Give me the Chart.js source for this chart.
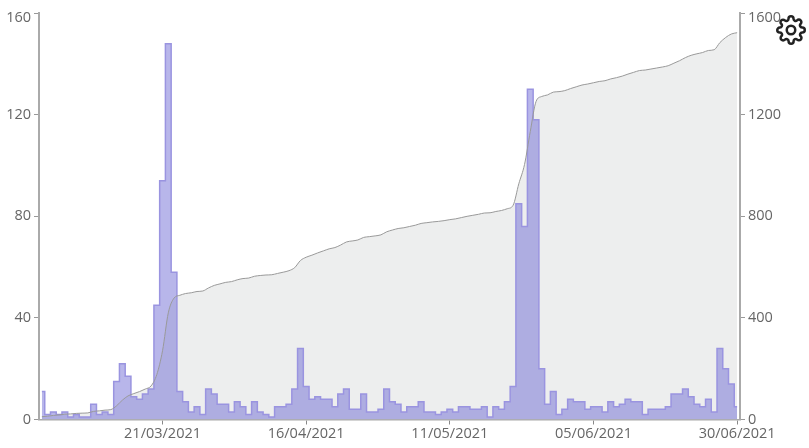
<!DOCTYPE html>
<html>
<head>
<meta charset="utf-8">
<style>
  html, body { margin: 0; padding: 0; background: #fff; overflow: hidden; }
  #wrap { position: relative; width: 809px; height: 448px; }
  #gear { position: absolute; left: 776px; top: 15px; }
</style>
<script src="https://cdn.jsdelivr.net/npm/chart.js@4"></script>
</head>
<body>
<div id="wrap">
  <canvas id="chart" width="809" height="448"></canvas>
  <svg id="gear" width="30" height="30" viewBox="0 0 24 24" fill="none" stroke="#222" stroke-width="2">
    <circle cx="12" cy="12" r="3.4"></circle>
    <path d="M19.4 15a1.65 1.65 0 0 0 .33 1.82l.06.06a2 2 0 0 1 0 2.83 2 2 0 0 1-2.83 0l-.06-.06a1.65 1.65 0 0 0-1.82-.33 1.65 1.65 0 0 0-1 1.51V21a2 2 0 0 1-2 2 2 2 0 0 1-2-2v-.09A1.65 1.65 0 0 0 9 19.4a1.65 1.65 0 0 0-1.82.33l-.06.06a2 2 0 0 1-2.83 0 2 2 0 0 1 0-2.83l.06-.06a1.65 1.65 0 0 0 .33-1.82 1.65 1.65 0 0 0-1.51-1H3a2 2 0 0 1-2-2 2 2 0 0 1 2-2h.09A1.65 1.65 0 0 0 4.6 9a1.65 1.65 0 0 0-.33-1.82l-.06-.06a2 2 0 0 1 0-2.83 2 2 0 0 1 2.83 0l.06.06a1.65 1.65 0 0 0 1.82.33H9a1.65 1.65 0 0 0 1-1.51V3a2 2 0 0 1 2-2 2 2 0 0 1 2 2v.09a1.65 1.65 0 0 0 1 1.51 1.65 1.65 0 0 0 1.82-.33l.06-.06a2 2 0 0 1 2.83 0 2 2 0 0 1 0 2.83l-.06.06a1.65 1.65 0 0 0-.33 1.82V9a1.65 1.65 0 0 0 1.51 1H21a2 2 0 0 1 2 2 2 2 0 0 1-2 2h-.09a1.65 1.65 0 0 0-1.51 1z"></path>
  </svg>
</div>
<script>
const dates = [
  '28/02/2021',
  '01/03/2021', '02/03/2021', '03/03/2021', '04/03/2021', '05/03/2021', '06/03/2021', '07/03/2021', '08/03/2021', '09/03/2021', '10/03/2021',
  '11/03/2021', '12/03/2021', '13/03/2021', '14/03/2021', '15/03/2021', '16/03/2021', '17/03/2021', '18/03/2021', '19/03/2021', '20/03/2021',
  '21/03/2021', '22/03/2021', '23/03/2021', '24/03/2021', '25/03/2021', '26/03/2021', '27/03/2021', '29/03/2021', '30/03/2021', '31/03/2021',
  '01/04/2021', '02/04/2021', '03/04/2021', '04/04/2021', '05/04/2021', '06/04/2021', '07/04/2021', '08/04/2021', '09/04/2021', '10/04/2021',
  '11/04/2021', '12/04/2021', '13/04/2021', '14/04/2021', '15/04/2021', '16/04/2021', '17/04/2021', '18/04/2021', '19/04/2021', '20/04/2021',
  '21/04/2021', '22/04/2021', '23/04/2021', '24/04/2021', '25/04/2021', '26/04/2021', '27/04/2021', '28/04/2021', '29/04/2021', '30/04/2021',
  '01/05/2021', '02/05/2021', '03/05/2021', '04/05/2021', '05/05/2021', '06/05/2021', '07/05/2021', '08/05/2021', '09/05/2021', '10/05/2021',
  '11/05/2021', '12/05/2021', '13/05/2021', '14/05/2021', '15/05/2021', '16/05/2021', '17/05/2021', '18/05/2021', '19/05/2021', '20/05/2021',
  '21/05/2021', '22/05/2021', '23/05/2021', '24/05/2021', '25/05/2021', '26/05/2021', '27/05/2021', '28/05/2021', '29/05/2021', '30/05/2021', '31/05/2021',
  '01/06/2021', '02/06/2021', '03/06/2021', '04/06/2021', '05/06/2021', '06/06/2021', '07/06/2021', '08/06/2021', '09/06/2021', '10/06/2021',
  '11/06/2021', '12/06/2021', '13/06/2021', '14/06/2021', '15/06/2021', '16/06/2021', '17/06/2021', '18/06/2021', '19/06/2021', '20/06/2021',
  '21/06/2021', '22/06/2021', '23/06/2021', '24/06/2021', '25/06/2021', '26/06/2021', '27/06/2021', '28/06/2021', '29/06/2021', '30/06/2021'
];

const daily = [
  11, 2, 3, 2, 3, 1, 2, 1, 1, 6, 2, 3, 2, 15, 22, 17, 9, 8, 10, 12,
  45, 94, 148, 58, 11, 7, 3, 5, 2, 12, 10, 6, 6, 3, 7, 5, 2, 7, 3, 2,
  1, 5, 5, 6, 12, 28, 13, 8, 9, 8, 8, 5, 10, 12, 4, 4, 10, 3, 3, 4,
  12, 7, 6, 3, 5, 5, 7, 3, 3, 2, 3, 4, 3, 5, 5, 4, 4, 5, 1, 5,
  4, 7, 13, 85, 76, 130, 118, 20, 6, 11, 2, 4, 8, 7, 7, 4, 5, 5, 3, 7,
  5, 6, 8, 7, 7, 2, 4, 4, 4, 5, 10, 10, 12, 9, 6, 5, 8, 3, 28, 20,
  14, 5
];

const total = [
  11, 13, 16, 18, 21, 22, 24, 25, 26, 32, 34, 37, 39, 54, 76, 93, 102, 110, 120, 132,
  177, 271, 420, 478, 489, 496, 499, 504, 506, 518, 528, 534, 540, 543, 550, 555, 557, 564, 567, 569,
  570, 575, 580, 586, 598, 626, 639, 647, 656, 664, 672, 677, 687, 699, 703, 707, 717, 720, 723, 727,
  739, 746, 752, 755, 760, 765, 772, 775, 778, 780, 783, 787, 790, 795, 800, 804, 808, 813, 814, 819,
  823, 830, 843, 928, 1004, 1134, 1252, 1272, 1278, 1289, 1291, 1295, 1303, 1310, 1317, 1321, 1326, 1331, 1334, 1341,
  1346, 1352, 1360, 1367, 1374, 1376, 1380, 1384, 1388, 1393, 1403, 1413, 1425, 1434, 1440, 1445, 1453, 1456, 1484, 1504,
  1518, 1523
];

const dateTicks = ['21/03/2021', '16/04/2021', '11/05/2021', '05/06/2021', '30/06/2021'];

const fontFamily = '"Open Sans", sans-serif';
const axisColor = '#aaaaaa';
const textColor = '#666666';

// the top label of each value axis sits a bit below its tick, an empty first line pushes it down
function valueTicks(top) {
    return {
        stepSize: top / 4,
        padding: 3,
        color: textColor,
        font: { family: fontFamily, size: 14.5, lineHeight: 0.7 },
        callback: (value) => value === top ? ['', String(value)] : String(value)
    };
}

function valueAxis(position, top, width) {
    return {
        type: 'linear',
        position,
        min: 0,
        max: top,
        border: { display: true, color: axisColor, width: 2 },
        grid: { drawOnChartArea: false, drawTicks: true, tickLength: 5, tickColor: '#999999', tickWidth: 1 },
        ticks: valueTicks(top),
        afterFit: (scale) => { scale.width = width; }
    };
}

new Chart(document.getElementById('chart'), {
    type: 'line',
    data: {
        labels: dates,
        datasets: [
            {
                // grey line on top of the purple, its area goes under it
                label: 'total',
                data: total,
                yAxisID: 'y2',
                order: 1,
                borderColor: '#999999',
                borderWidth: 1,
                fill: false,
                pointRadius: 0,
                cubicInterpolationMode: 'monotone'
            },
            {
                label: 'daily',
                data: daily,
                yAxisID: 'y',
                order: 2,
                stepped: 'middle',
                borderColor: '#9a94e0',
                borderWidth: 1.5,
                backgroundColor: 'rgba(105, 100, 210, 0.47)',
                fill: 'origin',
                pointRadius: 0
            },
            {
                label: 'total area',
                data: total,
                yAxisID: 'y2',
                order: 3,
                borderWidth: 0,
                backgroundColor: '#edeeee',
                fill: 'origin',
                pointRadius: 0,
                cubicInterpolationMode: 'monotone'
            }
        ]
    },
    options: {
        responsive: false,
        animation: false,
        layout: { padding: { top: 12, left: 0, right: 0, bottom: 0 } },
        plugins: { legend: { display: false }, tooltip: { enabled: false } },
        scales: {
            x: {
                type: 'category',
                offset: true,
                border: { display: true, color: axisColor, width: 1.5 },
                grid: { drawOnChartArea: false, offset: false, tickLength: 5, tickColor: '#888888', tickWidth: 1 },
                ticks: {
                    autoSkip: false,
                    maxRotation: 0,
                    padding: 1,
                    color: textColor,
                    font: { family: fontFamily, size: 14.5 },
                    callback: function (value) {
                        const label = this.getLabelForValue(value);
                        return dateTicks.includes(label) ? label : null;
                    }
                },
                afterFit: (scale) => { scale.height = 28.5; }
            },
            y: valueAxis('left', 160, 39),
            y2: valueAxis('right', 1600, 69)
        }
    }
});
</script>
</body>
</html>
